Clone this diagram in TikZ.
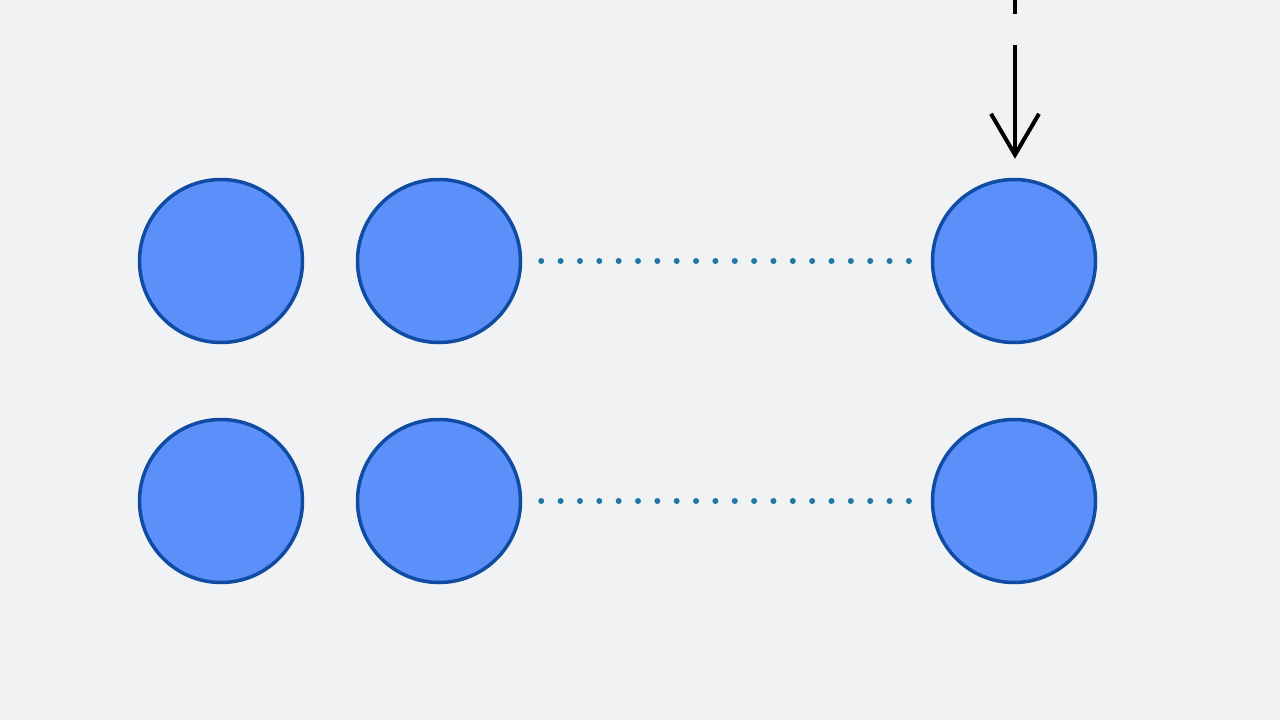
\documentclass[tikz,border=0pt]{standalone}
\usetikzlibrary{arrows.meta}
\definecolor{bg}{HTML}{F1F2F4}
\definecolor{cfill}{HTML}{5B8FF9}
\definecolor{cline}{HTML}{104CA2}
\definecolor{dotc}{HTML}{2275A8}
\begin{document}
\begin{tikzpicture}[x=1pt,y=-1pt,
  ball/.style={circle,draw=cline,fill=cfill,line width=3.5pt,minimum size=163pt,inner sep=0pt},
  dotline/.style={dotc,line width=6pt,line cap=round,dash pattern=on 0pt off 19.35pt},
  pointer/.style={line width=4pt,-{Straight Barb[length=41pt,width=48pt,line width=4pt]},dash pattern=on 14pt off 31pt on 400pt}]
\fill[bg] (0,0) rectangle (1280,720);
\useasboundingbox (0,0) rectangle (1280,720);
\node[ball] (a1) at (221,261) {};
\node[ball] (b1) at (439,261) {};
\node[ball] (c1) at (1014,261) {};
\node[ball] (a2) at (221,501) {};
\node[ball] (b2) at (439,501) {};
\node[ball] (c2) at (1014,501) {};
\coordinate (top) at (1015,0);
\draw[dotline] ([xshift=19pt]b1.east) -- ([xshift=-20pt]c1.west);
\draw[dotline] ([xshift=19pt]b2.east) -- ([xshift=-20pt]c2.west);
\draw[pointer,shorten >=19pt] (top) -- (top |- c1.north);
\end{tikzpicture}
\end{document}
